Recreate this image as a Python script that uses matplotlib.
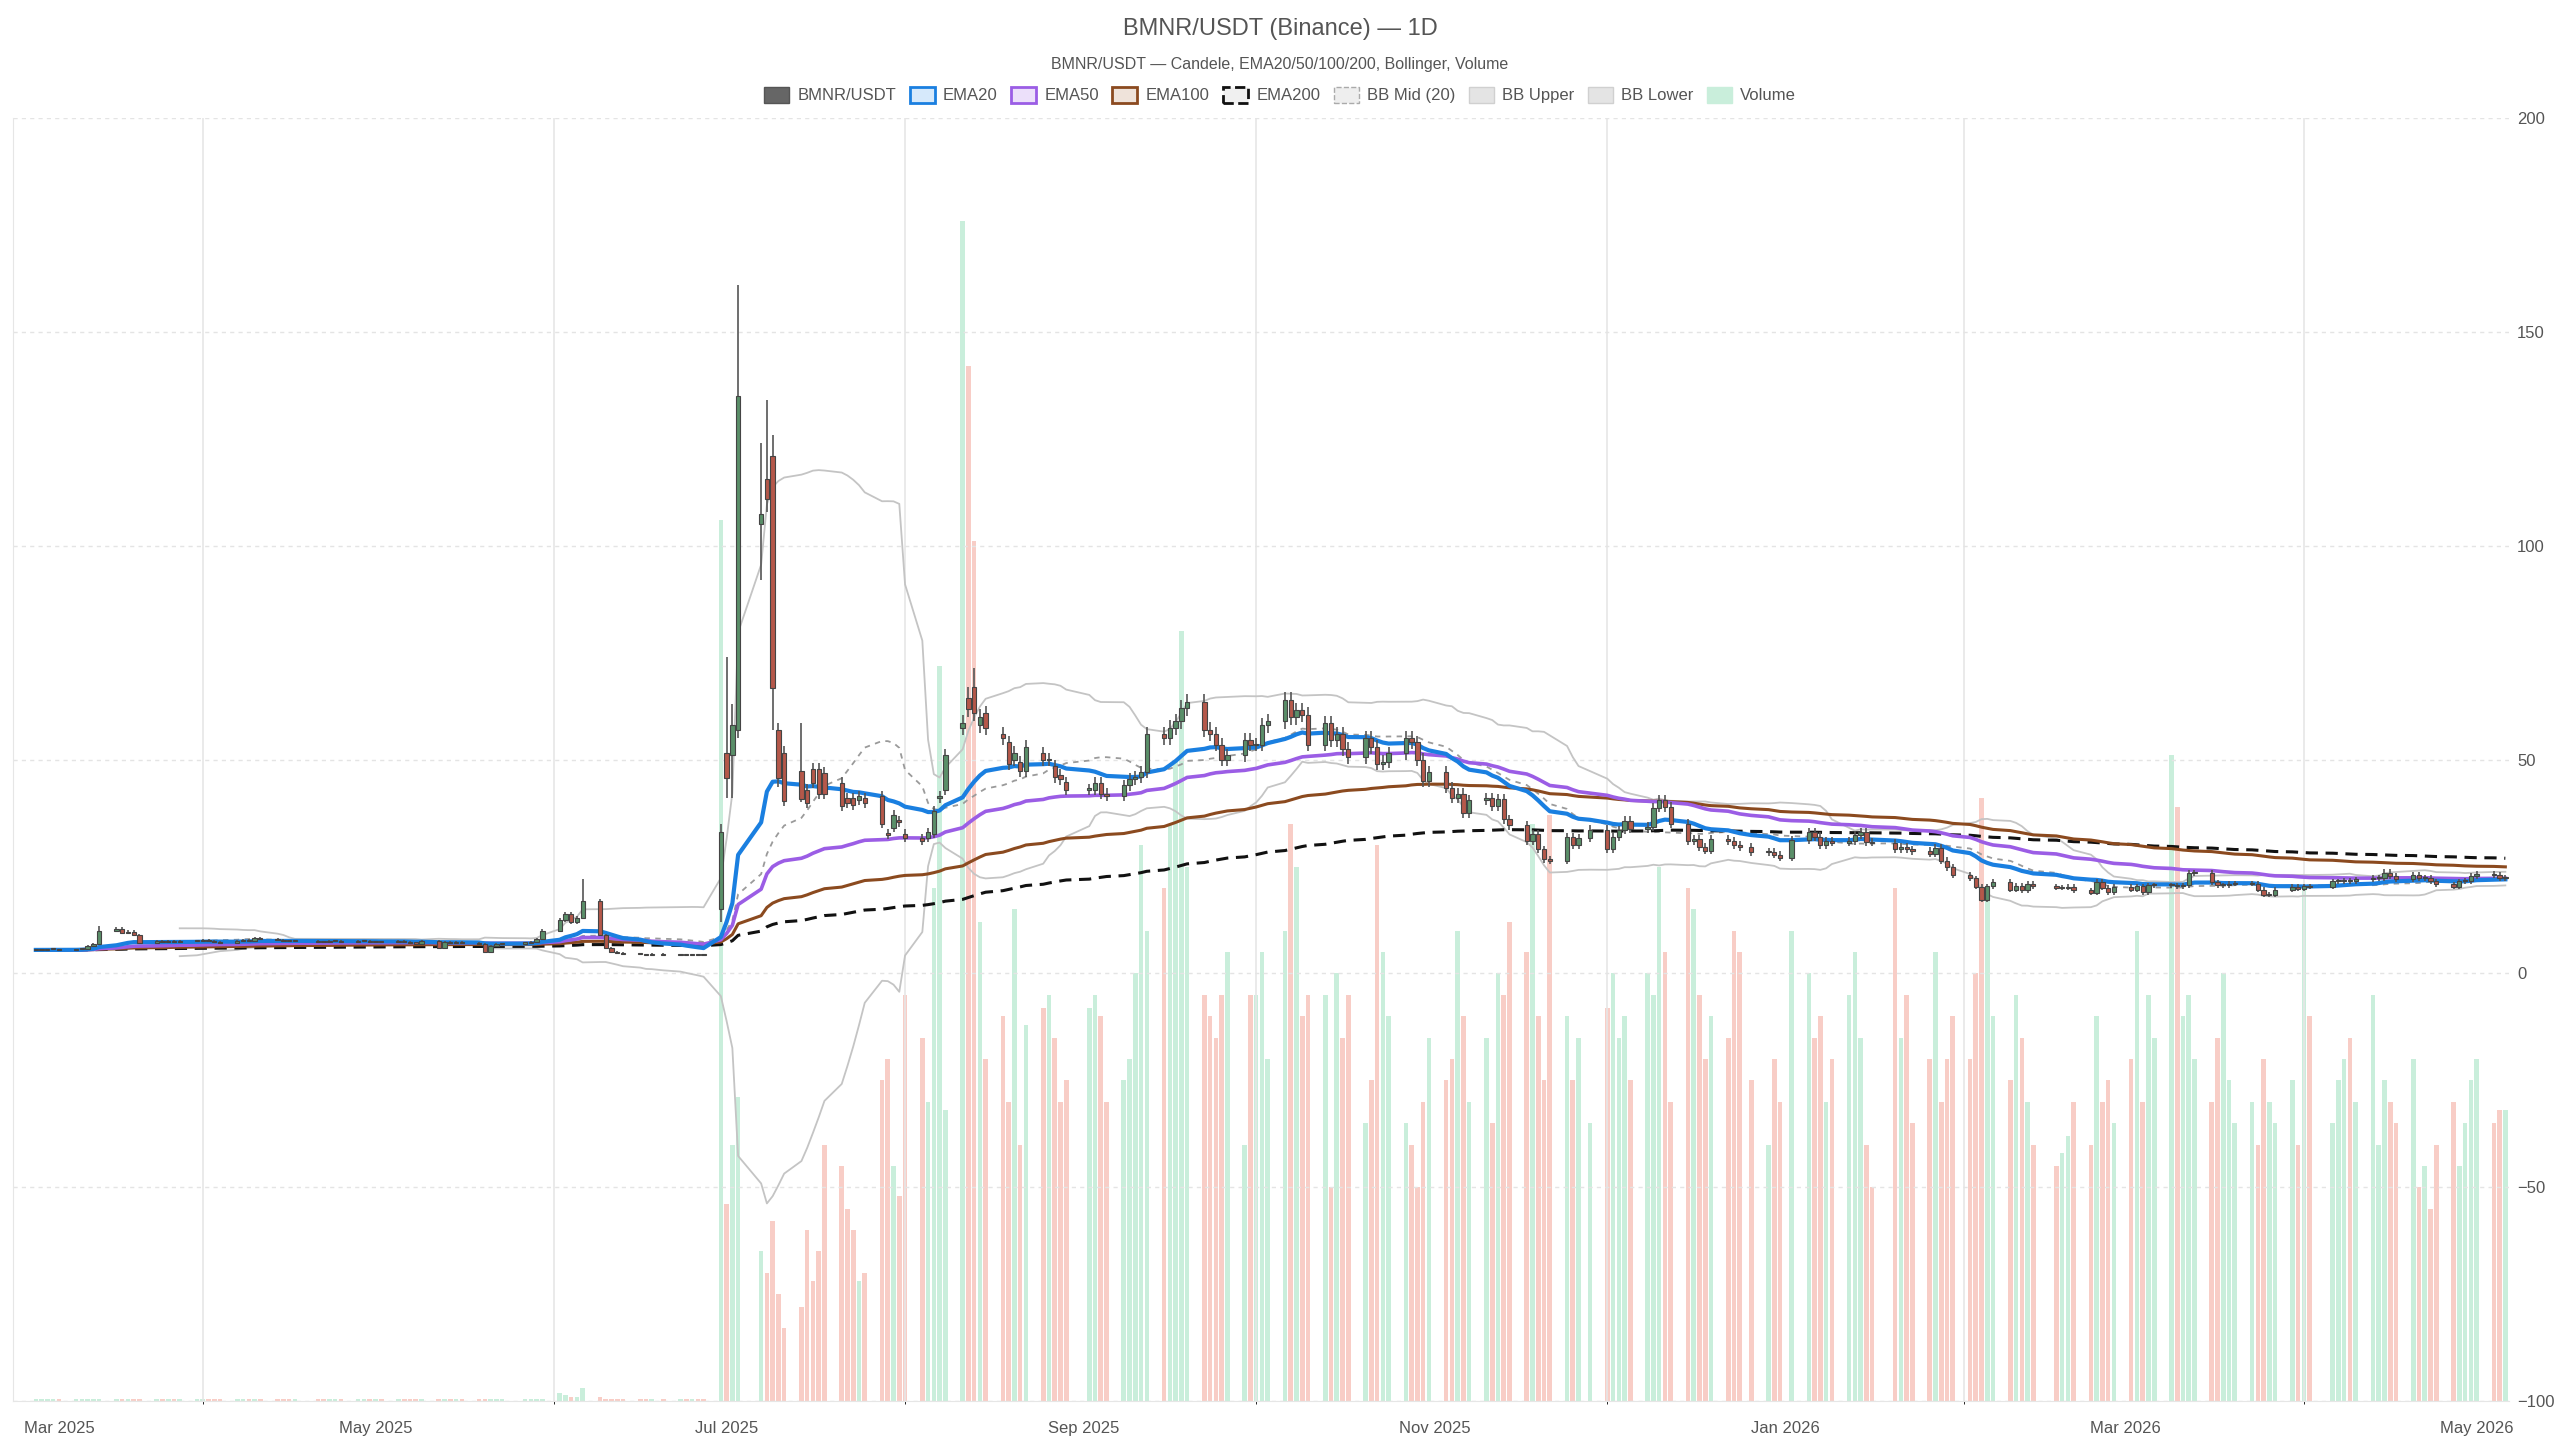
import numpy as np
import pandas as pd
import matplotlib
matplotlib.use("Agg")
import matplotlib.pyplot as plt
import matplotlib.dates as mdates
from matplotlib.patches import Patch, Rectangle

plt.rcParams['font.family'] = ['Liberation Sans', 'DejaVu Sans']

# ---------------- data (closes per month, trading days) ----------------
close_2025_03 = [5.5,5.5,5.6,5.6,5.5, 5.6,5.8,6.5,7.0,10.0, 10.5,9.5,9.8,9.0,7.2, 7.5,7.3,7.6,7.4,7.5, 7.6]
close_2025_04 = [7.8,7.6,7.4,7.2, 7.5,7.9,7.6,8.2,8.0, 7.8,7.6,7.5,7.7, 7.4,7.3,7.5,7.6,7.4, 7.5,7.6,7.4]
close_2025_05 = [7.4,7.3, 7.5,7.4,7.2,7.0,7.6, 6.0,7.3,7.2,7.4,7.1, 6.8,5.0,6.5,6.9,7.0, 7.1,7.3,8.0,10.0]
close_2025_06 = [12.5,14.0,12.0,13.0,17.0, 9.0,6.0,5.0,4.8,4.6, 4.5,4.4,4.6,4.3, 4.3,4.2,4.4,4.3,4.2, 33.0]
close_2025_07 = [45.7,58,135, 107.5,111,66.7,45.7,40.3, 40.9,39.8,44.6,42,42, 39.2,39.8,39.5,41.5,39.8, 35,32.3,37,35.3]
close_2025_08 = [31.7, 31.0,33.0,38.0,41.4,51.0, 58.6,61.8,61.0,60.0,57.5, 55.0,49.0,51.6,47.3,53.0, 50,50,46,45.5,43]
close_2025_09 = [43,44.5,42,41.5, 44,45.5,46,47,56, 55,57.5,59,62,63.5, 57,56,53.5,50,51, 54.5,53.5]
close_2025_10 = [53.5,58,59, 64,60,61.5,60.5,53.5, 58.5,54.5,56,52.5,50.5, 55,53,49,49.5,51.5, 55,54,50,45,47]
close_2025_11 = [43.4,41,42,37.5,40.5, 41,39.2,40.8,36,34.6, 31,32.5,29,26.7,26.3, 31.8,30,31.7,33.6]
close_2025_12 = [29,32,33.5,35.7,33.8, 34.3,38.8,40.5,39,35, 31,31.4,29.5,28.7,31.5, 31,30,29.5,28.3, 28.5,27.8,27]
close_2026_01 = [31.2, 33,32,30,31,30.6, 31,32.4,33,30.7,30.6, 29,29.5,29,28.6, 28,29.3,26.4,24.8,23]
close_2026_02 = [22.2,20.3,17.2,20.4,21.4, 19.6,20.5,19.5,21, 20.4,20,20,20.3,19.5, 18.9,21.4,20,19,20.3]
close_2026_03 = [19.6,20.4,19,20.6,20.6, 20.6,20.4,20.6,23.4,23.5, 21.3,20.6,20.6,21,21, 21,19.6,18.4,18.4,19.6, 20.3,19.8]
close_2026_04 = [20.4,20.3,21.5, 21.5,21.6,21.5,22,22.3, 22.4,23.6,22.8,22,23, 22.2,22.3,21.5,20.8,20.3, 21.5,21.6,22.8]
close_2026_05 = [23.2,23.1,22.2,22.4]

# explicit opens where the market gapped (Jun 30 - Aug)
open_2025_06_30 = 15.0
open_2025_07 = [51.6,51,57, 105,115.6,121,57,51.6, 47.3,43,47.8,47.8,46.8, 44.6,41,41,40.5,41, 41.4,32.8,34,35.8]
open_2025_08 = [32.7, 31.7,31.7,32.7,41.0,43.0, 57.5,64.5,67.0,58.0,60.8, 56.0,54.0,50.0,49.4,47.3, 51.5,50,48.5,46.5,44.7]

# wick extremes (date -> (high, low))
wick_overrides = {
    "2025-03-14": (11.0, 7.0), "2025-06-06": (22.0, 13.0),
    "2025-06-30": (35.0, 12.0), "2025-07-01": (74.0, 41.0), "2025-07-02": (63.0, 41.0),
    "2025-07-03": (161.0, 55.0), "2025-07-07": (124.0, 92.0), "2025-07-08": (134.0, 108.0),
    "2025-07-09": (126.0, 57.0), "2025-07-10": (58.6, 43.5), "2025-07-14": (58.6, 40.0),
    "2025-08-12": (67.0, 60.0), "2025-08-13": (71.5, 59.0),
}

# volume (relative units)
vol_2025_03 = [0.5]*21
vol_2025_04 = [0.5]*21
vol_2025_05 = [0.5]*21
vol_2025_06 = [2,1.5,1,1,3, 1,0.5,0.5,0.5,0.5, 0.5,0.5,0.5,0.5, 0.5,0.5,0.5,0.5,0.5, 206]
vol_2025_07 = [46,60,71, 35,30,42,25,17, 22,40,28,35,60, 55,45,40,28,30, 75,80,55,48]
vol_2025_08 = [95, 85,70,120,172,68, 276,242,201,112,80, 90,70,115,60,88, 92,95,85,70,75]
vol_2025_09 = [92,95,90,70, 75,80,100,130,110, 120,135,150,180,125, 95,90,85,95,105, 60,95]
vol_2025_10 = [95,105,80, 110,135,125,90,95, 95,50,100,85,95, 65,75,130,105,90, 65,60,50,70,85]
vol_2025_11 = [75,80,110,90,70, 85,65,100,95,112, 105,135,90,75,137, 90,75,85,65]
vol_2025_12 = [92,100,85,90,75, 100,95,125,105,70, 120,115,95,80,90, 85,110,105,75, 60,80,70]
vol_2026_01 = [110,100,85,90,70, 80,95,105,85,60, 50,120,85,95,65, 80,105,70,80,90]
vol_2026_02 = [80,100,141,120,90, 75,95,85,70,60, 55,58,62,70,60, 90,70,75,65]
vol_2026_03 = [80,110,70,95,85, 151,139,90,95,80, 70,85,100,75,65, 70,60,80,70,65, 75,60]
vol_2026_04 = [120,90,65, 75,80,85,70,95, 60,75,70,65,80, 50,55,45,60,70, 55,65,75]
vol_2026_05 = [80,65,68,68]

# ---------------- assemble ----------------
holidays = pd.to_datetime(["2025-04-18","2025-05-26","2025-06-19","2025-07-04","2025-09-01",
                           "2025-11-27","2025-12-25","2026-01-01","2026-01-19","2026-02-16","2026-04-03"])
months = [("2025-03", close_2025_03, vol_2025_03), ("2025-04", close_2025_04, vol_2025_04),
          ("2025-05", close_2025_05, vol_2025_05), ("2025-06", close_2025_06, vol_2025_06),
          ("2025-07", close_2025_07, vol_2025_07), ("2025-08", close_2025_08, vol_2025_08),
          ("2025-09", close_2025_09, vol_2025_09), ("2025-10", close_2025_10, vol_2025_10),
          ("2025-11", close_2025_11, vol_2025_11), ("2025-12", close_2025_12, vol_2025_12),
          ("2026-01", close_2026_01, vol_2026_01), ("2026-02", close_2026_02, vol_2026_02),
          ("2026-03", close_2026_03, vol_2026_03), ("2026-04", close_2026_04, vol_2026_04),
          ("2026-05", close_2026_05, vol_2026_05)]
dates, closes, vols = [], [], []
for m, c, v in months:
    start = pd.Timestamp(m + "-01")
    d = pd.bdate_range(start, start + pd.offsets.MonthEnd(0))
    d = d[~d.isin(holidays)]
    if m == "2026-05":
        d = d[:len(c)]
    n = min(len(d), len(c), len(v))
    dates += list(d[:n]); closes += list(c[:n]); vols += list(v[:n])

df = pd.DataFrame({"close": closes, "vol": vols}, index=pd.DatetimeIndex(dates))
df["open"] = df["close"].shift(1).fillna(df["close"].iloc[0])
df.loc["2025-06-30", "open"] = open_2025_06_30
jul = df.index[(df.index >= "2025-07-01") & (df.index < "2025-08-01")]
df.loc[jul, "open"] = open_2025_07[:len(jul)]
aug = df.index[(df.index >= "2025-08-01") & (df.index < "2025-09-01")]
df.loc[aug, "open"] = open_2025_08[:len(aug)]
top = df[["open", "close"]].max(axis=1)
bot = df[["open", "close"]].min(axis=1)
df["high"] = top * 1.03
df["low"] = bot * 0.97
for k, (h, l) in wick_overrides.items():
    ts = pd.Timestamp(k)
    if ts in df.index:
        df.loc[ts, "high"] = h; df.loc[ts, "low"] = l

c = df["close"]
ema = {n: c.ewm(span=n, adjust=False).mean() for n in (20, 50, 100, 200)}
mid = c.rolling(20).mean(); sd = c.rolling(20).std(ddof=0)
bbu, bbl = mid + 2 * sd, mid - 2 * sd

# ---------------- plot ----------------
fig = plt.figure(figsize=(25.6, 14.4), dpi=100)
ax = fig.add_axes([0.005, 0.027, 0.975, 0.891])
axv = ax.twinx()
axv.set_ylim(0, 300)
axv.set_yticks([])
for s in axv.spines.values(): s.set_visible(False)
ax.set_zorder(axv.get_zorder() + 1); ax.patch.set_visible(False)

x = mdates.date2num(df.index.to_pydatetime())
up = (df["close"] >= df["open"]).values
axv.bar(x, df["vol"], width=0.8, color=np.where(up, "#c9eedb", "#f8cdc6"), linewidth=0)

ax.plot(x, bbu, color="#c4c4c4", lw=1.3)
ax.plot(x, bbl, color="#c4c4c4", lw=1.3)
ax.plot(x, mid, color="#9a9a9a", lw=1.3, ls=(0, (3, 3)))
ax.plot(x, ema[200], color="#111111", lw=2.2, ls=(0, (4, 2.5)))
ax.plot(x, ema[100], color="#8b4a1f", lw=2.2)
ax.plot(x, ema[50], color="#9b5de5", lw=2.6)
ax.plot(x, ema[20], color="#1a7fe0", lw=3.0)

w = 0.75
for xi, o, cl, h, l, u in zip(x, df["open"], df["close"], df["high"], df["low"], up):
    ax.vlines(xi, l, h, color="#555555", lw=1.2, zorder=3)
    b = min(o, cl); hh = max(abs(cl - o), 0.25)
    ax.add_patch(Rectangle((xi - w / 2, b), w, hh, facecolor="#5a8f69" if u else "#b5584a",
                           edgecolor="#444444", lw=0.8, zorder=4))

ax.set_ylim(-100, 200)
ax.set_xlim(mdates.date2num(pd.Timestamp("2025-02-27")), x[-1] + 0.6)
ax.yaxis.tick_right()
ax.set_yticks([-100, -50, 0, 50, 100, 150, 200])
ax.tick_params(axis="y", length=0, labelsize=12, colors="#555555", pad=6)
ax.tick_params(axis="x", length=0, labelsize=12, colors="#555555", pad=14)
ax.xaxis.set_major_locator(mdates.MonthLocator(bymonth=[1, 3, 5, 7, 9, 11]))
ax.xaxis.set_major_formatter(mdates.DateFormatter("%b %Y"))
ax.xaxis.set_minor_locator(mdates.MonthLocator(bymonth=[2, 4, 6, 8, 10, 12]))
ax.grid(axis="y", color="#e4e4e4", ls=(0, (3, 3)), lw=1)
ax.grid(axis="x", which="minor", color="#e6e6e6", lw=1.2)
for s in ax.spines.values(): s.set_visible(False)
ax.spines["left"].set_visible(True); ax.spines["left"].set_color("#e6e6e6")
ax.spines["bottom"].set_visible(True); ax.spines["bottom"].set_color("#e6e6e6")
fig.canvas.draw()
lbls = ax.get_xticklabels()
lbls[0].set_horizontalalignment("left")
lbls[0].set_x(lbls[0].get_position()[0])

fig.text(0.5, 0.98, "BMNR/USDT (Binance) — 1D", ha="center", va="center", fontsize=17, color="#555555")
fig.text(0.5, 0.955, "BMNR/USDT — Candele, EMA20/50/100/200, Bollinger, Volume", ha="center",
         va="center", fontsize=11.5, color="#555555")
handles = [Patch(fc="#666666", ec="#555555", label="BMNR/USDT"),
           Patch(fc="#d6e9fb", ec="#1a7fe0", lw=2, label="EMA20"),
           Patch(fc="#ece0fa", ec="#9b5de5", lw=2, label="EMA50"),
           Patch(fc="#efe3da", ec="#8b4a1f", lw=2, label="EMA100"),
           Patch(fc="#f0f0f0", ec="#111111", lw=2, ls="--", label="EMA200"),
           Patch(fc="#eeeeee", ec="#aaaaaa", lw=1, ls="--", label="BB Mid (20)"),
           Patch(fc="#e4e4e4", ec="#d0d0d0", label="BB Upper"),
           Patch(fc="#e4e4e4", ec="#d0d0d0", label="BB Lower"),
           Patch(fc="#c9eedb", ec="#c9eedb", label="Volume")]
fig.legend(handles=handles, loc="center", bbox_to_anchor=(0.5, 0.934), ncol=9, frameon=False,
           fontsize=12, labelcolor="#555555", handlelength=1.5, handleheight=1.1, columnspacing=0.8,
           handletextpad=0.5)
fig.savefig("out.png", dpi=100, facecolor="white")
